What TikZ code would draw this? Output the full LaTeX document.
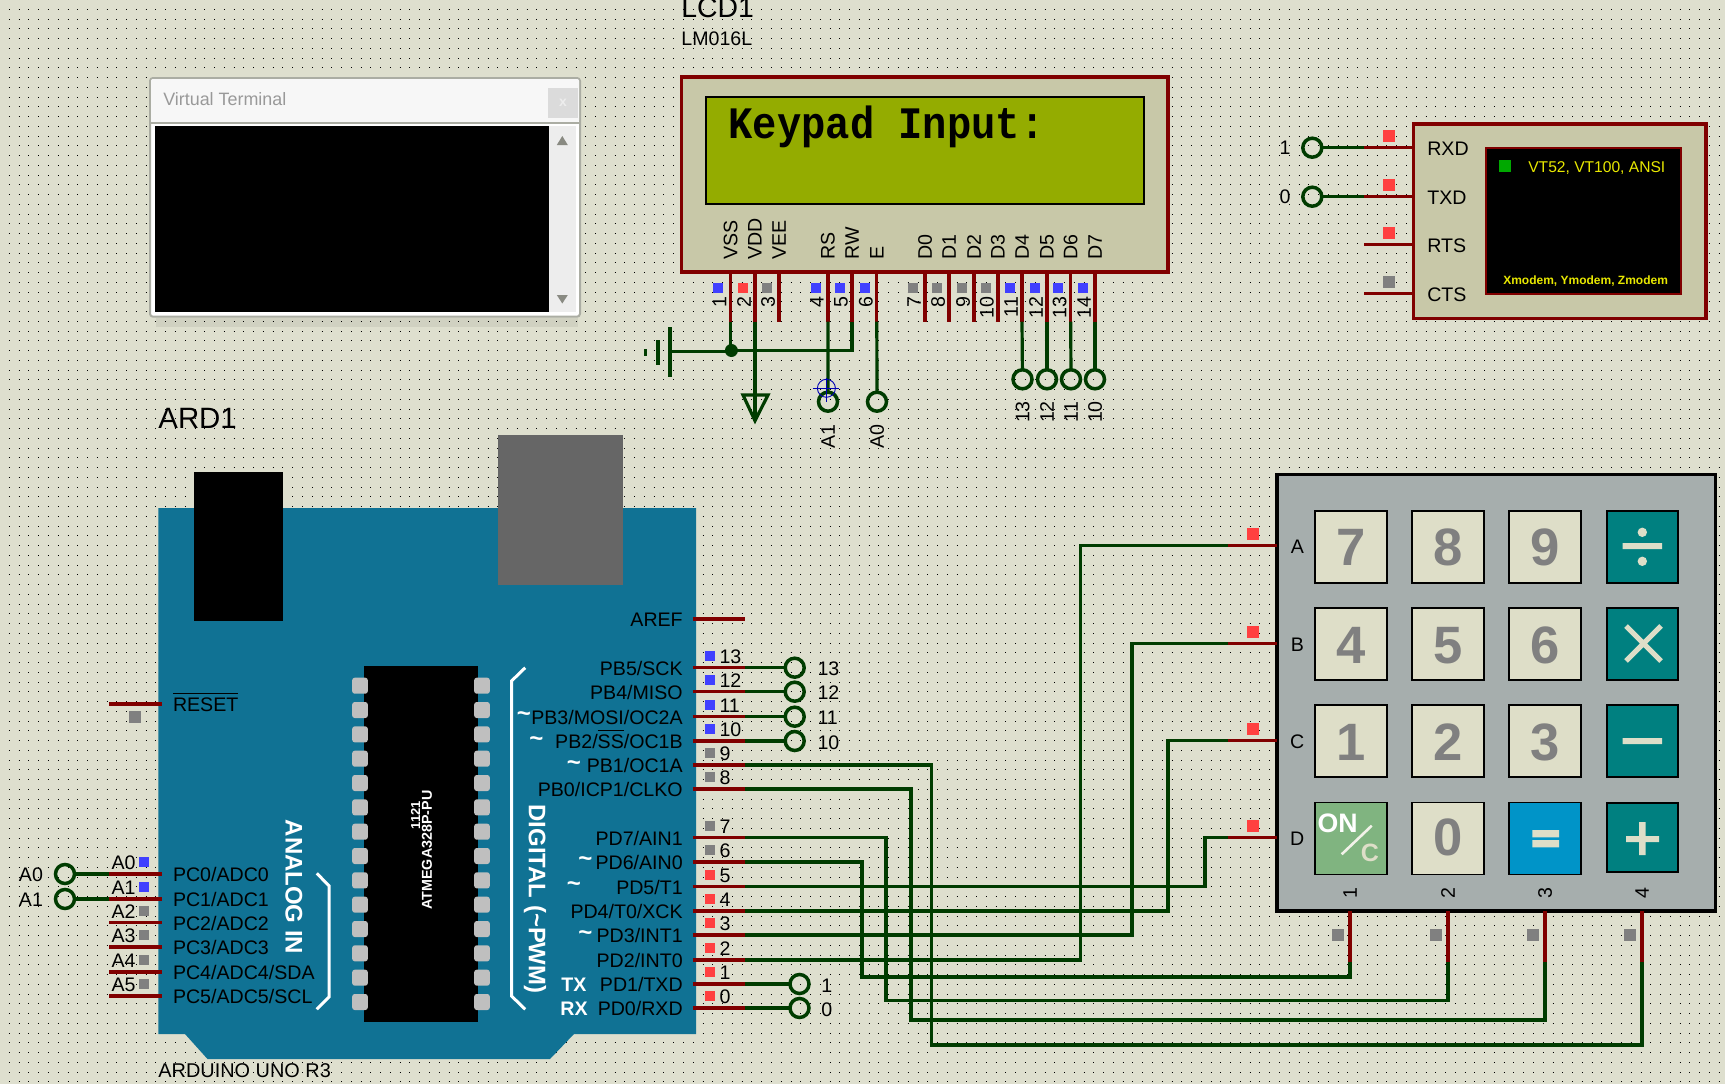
\documentclass[tikz,border=0pt]{standalone}
\usepackage{fontspec}
\setmainfont{Liberation Sans}
\newfontfamily\lcdfont[FakeStretch=0.9]{Liberation Mono}
\usetikzlibrary{calc}
\definecolor{sheet}{HTML}{DEDFCE}
\definecolor{board}{HTML}{107294}
\definecolor{pincol}{HTML}{800000}
\definecolor{wirecol}{HTML}{003C00}
\definecolor{pblue}{HTML}{4040FF}
\definecolor{pred}{HTML}{FF4040}
\definecolor{pgray}{HTML}{808080}
\definecolor{body}{HTML}{C8C8A8}
\definecolor{lcdgreen}{HTML}{94AC00}
\definecolor{keypad}{HTML}{A6AEAD}
\definecolor{keyteal}{HTML}{008080}
\definecolor{keybeige}{HTML}{DEDEC8}
\definecolor{keyblue}{HTML}{0094C8}
\definecolor{keygreen}{HTML}{80B480}
\definecolor{vtgray}{HTML}{ABADA3}
\definecolor{vtyellow}{HTML}{E8E800}
\newcommand{\ovl}[1]{\vbox{\hrule height 1.8pt\kern 3.4pt\hbox{#1}}}
\tikzset{
  every node/.style={inner sep=0pt,outer sep=0pt},
  lbl/.style={font=\fontsize{19.6}{20}\selectfont},
  wlbl/.style={font=\bfseries\fontsize{#1}{#1}\selectfont,text=white},
  pinline/.style={draw=pincol,line width=3.2pt},
  wire/.style={draw=wirecol,line width=3.2pt},
  term/.style={circle,draw=wirecol,line width=3.5pt,minimum size=19pt},
  sq/.style={fill=#1,minimum size=10pt},
  bigsq/.style={fill=#1,minimum size=12pt},
  keyb/.style={draw=black,line width=1.5pt,fill=keybeige,minimum size=72pt},
  keyc/.style={draw=black,line width=1.5pt,fill=keyteal,minimum width=71pt,minimum height=72pt},
  digit/.style={font=\bfseries\fontsize{52.6}{53}\selectfont,text=pgray,anchor=base},
  symb/.style={fill=keybeige},
  pad/.style={fill=black!25,rounded corners=2.5pt,minimum width=15.6pt,minimum height=16pt},
  bracket/.style={draw=white,line width=3pt}
}
\begin{document}
\begin{tikzpicture}[x=1pt,y=-1pt]
\useasboundingbox (0,0) rectangle (1725,1084);
\fill[sheet] (0,0) rectangle (1725,1084);
\foreach \y in {9.4,19.15,...,1084}
  \draw[line width=1pt,dash pattern=on 1pt off 8.77pt] (8.9,\y) -- (1725,\y);

% virtual terminal window
\fill[black,opacity=.06] (156,318) rectangle (578,327);
\draw[vtgray,line width=2pt,fill=white,rounded corners=3pt] (150,78) rectangle (580,316.7);
\fill[black!3!white,rounded corners=2pt] (151,79) rectangle (579,122);
\fill[vtgray] (151,122) rectangle (579,124);
\fill[black!7] (549,125.7) rectangle (576,311.7);
\fill[black] (155,125.7) rectangle (549,311.7);
\node[fill=black!14,minimum width=30pt,minimum height=29.4pt,text=black!7,font=\bfseries\fontsize{14}{14}\selectfont] (vtclose) at (563,103) {x};
\node[font=\fontsize{17.9}{18}\selectfont,text=black!40,anchor=base west] (vttitle) at (163.3,105.7) {Virtual Terminal};
\fill[vtgray!80!black] (556.8,145) -- (562.3,136) -- (567.8,145) -- cycle;
\fill[vtgray!80!black] (556.8,295) -- (562.3,303.5) -- (567.8,295) -- cycle;

% lcd
\node[font=\fontsize{28.4}{29}\selectfont,anchor=base west] (lcdname) at (681.4,17.3) {LCD1};
\node[lbl,anchor=base west] (lcdtype) at (681.4,45.7) {LM016L};
\draw[pincol,line width=3.6pt,fill=body] (681.4,77) rectangle (1168,271.7);
\draw[black,line width=2pt,fill=lcdgreen] (706,97) rectangle (1144,204);
\node[font=\lcdfont\bfseries\fontsize{45}{45}\selectfont,anchor=base west] (lcdtext) at (728.5,138) {Keypad Input:};
\foreach \n/\x/\c/\s in {1/730.7/pblue/VSS,2/755/pred/VDD,3/779/pgray/VEE,4/827.9/pblue/RS,5/852/pblue/RW,6/876.8/pblue/E,
  7/925/pgray/D0,8/949/pgray/D1,9/974/pgray/D2,10/997.9/pgray/D3,11/1022/pblue/D4,12/1047/pblue/D5,13/1070.7/pblue/D6,14/1095/pblue/D7}{
  \coordinate (lcdt\n) at (\x,271.7);
  \coordinate (lcdb\n) at (\x,321.7);
  \draw[pinline] (lcdt\n) -- (lcdb\n);
  \node[sq=\c] (lcds\n) at (\x-12.3,287.7) {};
  \node[lbl,rotate=90,anchor=east] (lcdn\n) at (\x-11,296.7) {\n};
  \node[lbl,rotate=90,anchor=west] (lcdp\n) at (\x,259.3) {\s};
}
\node[circle,fill=wirecol,minimum size=13pt] (junc) at (731.4,350.5) {};
\coordinate (gnd1) at (670,351.5);
\coordinate (gnd2) at (658,352.5);
\coordinate (gnd3) at (645.7,352.5);
\draw[wire] (lcdb1) -- (lcdb1 |- junc);
\draw[wire] (junc.center) -| (lcdb5);
\draw[wire] (gnd1) -- (gnd1 -| junc);
\draw[wire] ($(gnd1)+(0,-24.5)$) -- ($(gnd1)+(0,25.5)$);
\draw[wire] ($(gnd2)+(0,-12.5)$) -- ($(gnd2)+(0,12.5)$);
\draw[wire] ($(gnd3)+(0,-3.5)$) -- ($(gnd3)+(0,3.5)$);
\coordinate (pwrl) at (743,395);
\coordinate (pwrr) at (768,395);
\coordinate (pwr) at (755,420.7);
\draw[wire] (lcdb2) -- (pwr);
\draw[wire] (pwrl) -- (pwrr) -- (pwr) -- cycle;
\node[term] (tlcd4) at (828,401.7) {};
\node[term] (tlcd6) at (877,401.7) {};
\draw[wire] (lcdb4) -- (tlcd4);
\draw[wire] (lcdb6) -- (tlcd6);
\node[lbl,rotate=90] (llcd4) at (828,437) {A1};
\node[lbl,rotate=90] (llcd6) at (877,437) {A0};
\draw[blue!70!black,line width=.9pt] (826.4,388.3) circle [radius=9];
\draw[blue!70!black,line width=.9pt] (812.9,388.3) -- (838.6,388.3) (826.4,378) -- (826.4,401.7);
\foreach \n/\x/\t in {11/1022.5/13,12/1047/12,13/1071/11,14/1095/10}{
  \node[term] (tlcd\n) at (\x,379.3) {};
  \draw[wire] (lcdb\n) -- (tlcd\n);
  \node[lbl,rotate=90] (llcd\n) at (\x,412) {\t};
}

% serial terminal
\draw[pincol,line width=3.6pt,fill=body] (1413.3,124) rectangle (1705.7,318.3);
\draw[pincol,line width=2.2pt,fill=black] (1486,148.3) rectangle (1681,294);
\node[bigsq=green!66!black] (vtled) at (1505,166) {};
\node[font=\fontsize{15.6}{16}\selectfont,text=vtyellow,anchor=base west] (vthead) at (1528.3,172.7) {VT52, VT100, ANSI};
\node[font=\bfseries\fontsize{12}{13}\selectfont,text=vtyellow,anchor=base west] (vtfoot) at (1503.3,284) {Xmodem, Ymodem, Zmodem};
\foreach \s/\y/\c in {RXD/147.7/pred,TXD/196.7/pred,RTS/244.7/pred,CTS/293.7/pgray}{
  \coordinate (vtr\s) at (1413.3,\y);
  \coordinate (vtl\s) at (1364,\y);
  \draw[pinline] (vtr\s) -- (vtl\s);
  \node[bigsq=\c] (vts\s) at (1389,\y-11.7) {};
  \node[lbl,anchor=base west] (vtn\s) at (1427.3,\y+8) {\s};
}
\node[term] (tvt1) at (1312.3,147.7) {};
\node[term] (tvt0) at (1312.3,196.7) {};
\draw[wire] (tvt1) -- (vtlRXD);
\draw[wire] (tvt0) -- (vtlTXD);
\node[lbl,anchor=base] (lvt1) at (1285,154.7) {1};
\node[lbl,anchor=base] (lvt0) at (1285,203.7) {0};

% arduino
\node[font=\fontsize{29.4}{30}\selectfont,anchor=base west] (ardname) at (158.4,428.3) {ARD1};
\fill[board] (158.4,508) -- (696,508) -- (696,1034) -- (574,1034) -- (550,1059) -- (207.5,1059) -- (185,1034) -- (158.4,1034) -- cycle;
\fill[black] (194.3,472) rectangle (283,620.7);
\fill[black!60] (498,435) rectangle (622.5,584.7);
\node[font=\fontsize{19.9}{20}\selectfont,anchor=base west] (ardtype) at (158.4,1077) {ARDUINO UNO R3};
\fill[black] (364,666) rectangle (478,1021.7);
\foreach \i in {0,...,13}{
  \node[pad] (padl\i) at (360,{685.7+\i*24.33}) {};
  \node[pad] (padr\i) at (482,{685.7+\i*24.33}) {};
}
\node[wlbl=14.3,rotate=90] (chiptype) at (427,850) {ATMEGA328P-PU};
\node[wlbl=13,rotate=90] (chipdate) at (415.5,815) {1121};
\node[wlbl=24,rotate=-90] (anlabel) at (294,887) {ANALOG IN};
\node[wlbl=23.9,rotate=-90] (diglabel) at (535,899) {DIGITAL (\char126PWM)};
\draw[bracket] (316.8,873.3) -- (329.2,886) -- (329.2,996.7) -- (316.8,1009.3);
\draw[bracket] (525.2,667.7) -- (511.5,681) -- (511.5,996) -- (525.2,1009.3);

% analog side
\coordinate (rstr) at (161.6,704);
\coordinate (rstl) at (109,704);
\draw[pinline] (rstl) -- (rstr);
\node[bigsq=pgray] (rsts) at (135,716.7) {};
\node[lbl,anchor=base west] (rstn) at (173,711.5) {\ovl{RESET}};
\foreach \n/\y/\c/\t in {0/874/pblue/{PC0/ADC0},1/899/pblue/{PC1/ADC1},2/922.7/pgray/{PC2/ADC2},3/947/pgray/{PC3/ADC3},4/972/pgray/{PC4/ADC4/SDA},5/996/pgray/{PC5/ADC5/SCL}}{
  \coordinate (anr\n) at (161.6,\y);
  \coordinate (anl\n) at (109,\y);
  \draw[pinline] (anl\n) -- (anr\n);
  \node[sq=\c] (ans\n) at (143.7,\y-12) {};
  \node[lbl,anchor=base west] (ann\n) at (111.5,\y-4.5) {A\n};
  \node[lbl,anchor=base west] (ant\n) at (173,\y+7.5) {\t};
}
\foreach \n in {0,1}{
  \node[term] (tan\n) at (65,{874+\n*25}) {};
  \draw[wire] (tan\n) -- (anl\n);
  \node[lbl,anchor=base west] (lan\n) at (19,{881.5+\n*25}) {A\n};
}

% digital side
\coordinate (arefl) at (692.7,619);
\coordinate (arefr) at (745,619);
\draw[pinline] (arefl) -- (arefr);
\node[lbl,anchor=base east] (arefn) at (682.7,626.5) {AREF};
\foreach \n/\y/\c/\t in {13/667.7/pblue/{PB5/SCK},12/691.7/pblue/{PB4/MISO},11/716.7/pblue/{PB3/MOSI/OC2A},10/741/pblue/{PB2/\ovl{SS}/OC1B},
  9/765/pgray/{PB1/OC1A},8/789/pgray/{PB0/ICP1/CLKO},7/837.7/pgray/{PD7/AIN1},6/862/pgray/{PD6/AIN0},5/886.7/pred/{PD5/T1},
  4/911/pred/{PD4/T0/XCK},3/935/pred/{PD3/INT1},2/960/pred/{PD2/INT0},1/984/pred/{PD1/TXD},0/1008/pred/{PD0/RXD}}{
  \coordinate (rl\n) at (692.7,\y);
  \coordinate (rt\n) at (745,\y);
  \draw[pinline] (rl\n) -- (rt\n);
  \node[sq=\c] (rs\n) at (710,\y-11.8) {};
  \node[lbl,anchor=base west] (rn\n) at (719.5,\y-4.2) {\n};
  \node[lbl,anchor=base east] (rp\n) at (682.7,\y+7.5) {\t};
}
\foreach \n/\x/\y in {a/524/717,b/536.5/741.7,c/574/765.7,d/585.5/862,e/574/887,f/585.5/935.7}
  \node[wlbl=24] (tilde\n) at (\x,\y) {\char126};
\node[wlbl=19.6,anchor=base] (txlabel) at (574,991.7) {TX};
\node[wlbl=19.6,anchor=base] (rxlabel) at (574,1015) {RX};
\foreach \n in {13,12,11,10}{
  \node[term] (tr\n) at (794.7,0 |- rt\n) {};
  \draw[wire] (rt\n) -- (tr\n);
}
\foreach \n/\y in {13/675.7,12/699.7,11/724.7,10/749}
  \node[lbl,anchor=base west] (lr\n) at (817.5,\y) {\n};
\foreach \n/\y in {1/992,0/1016}{
  \node[term] (tr\n) at (799.5,{\y-8}) {};
  \draw[wire] (rt\n) -- (tr\n);
  \node[lbl,anchor=base] (lr\n) at (826.7,\y) {\n};
}

% keypad
\draw[black,line width=3.6pt,fill=keypad] (1277,474.5) rectangle (1715.5,911);
\foreach \k/\x/\y/\b in {7/1351/547/565,8/1448/547/565,9/1545/547/565,4/1351/644/663.3,5/1448/644/663.3,6/1545/644/663.3,1/1351/741/760,2/1448/741/760,3/1545/741/760,0/1448/838.5/855}{
  \node[keyb] (key\k) at (\x,\y) {};
  \node[digit] (dig\k) at (\x,\b) {\k};
}
\node[keyb,fill=keygreen] (keyon) at (1351,838.5) {};
\node[keyb,fill=keyblue] (keyeq) at (1545,838.5) {};
\node[keyc] (keydiv) at (1642.5,547) {};
\node[keyc] (keymul) at (1642.5,644) {};
\node[keyc] (keymin) at (1642.5,741) {};
\node[keyc,minimum height=69pt] (keyadd) at (1642.5,837.5) {};
\node[font=\bfseries\fontsize{26.7}{27}\selectfont,text=white,anchor=base west] (onlabel) at (1317.5,832) {ON};
\node[font=\bfseries\fontsize{25}{25}\selectfont,text=keybeige] (clabel) at (1370,853.3) {C};
\draw[keybeige!40!white,line width=2.6pt] (1341.7,854.3) -- (1371.7,825.7);
\fill[symb] (1532.3,830) rectangle (1559,837.3) (1532.3,840) rectangle (1559,847.3);
\fill[symb] (1626,836) rectangle (1659,842) (1639,822) rectangle (1645.7,855);
\fill[symb] (1622.7,543) rectangle (1662,549) (1622.7,738) rectangle (1662,744);
\fill[symb] (1642.3,532.3) circle [radius=4.7] (1642.3,561.3) circle [radius=4.7];
\draw[keybeige,line width=5pt] (1626,626) -- (1661,661) (1661,626) -- (1626,661);
\foreach \r/\y/\q in {A/545.8/533.8,B/643.6/631.6,C/740.7/728.7,D/837.8/825.8}{
  \coordinate (kr\r) at (1277,\y);
  \coordinate (kl\r) at (1227.7,\y);
  \draw[pinline] (kl\r) -- (kr\r);
  \node[bigsq=pred] (ks\r) at (1253,\q) {};
  \node[lbl] (kn\r) at (1297.3,\y+1) {\r};
}
\foreach \c/\x/\q in {1/1350/1338,2/1448/1435.7,3/1545/1533,4/1642/1630}{
  \coordinate (kt\c) at (\x,911);
  \coordinate (kb\c) at (\x,961.7);
  \draw[pinline] (kt\c) -- (kb\c);
  \node[bigsq=pgray] (kq\c) at (\q,935) {};
  \node[lbl,rotate=90] (kc\c) at (\x,893) {\c};
}
% keypad wiring
\foreach \p/\c/\x/\y in {6/1/862/977,7/2/886/1000.7,8/3/911/1020,9/4/931.7/1045}{
  \coordinate (bn\c) at (\x,\y);
  \draw[wire] (rt\p) -| (bn\c) -| (kb\c);
}
\foreach \p/\r/\x/\y in {5/D/1205/837.8,4/C/1168/740.7,3/B/1132/643.6,2/A/1080.7/545.8}{
  \coordinate (bn\r) at (\x,\y);
  \draw[wire] (rt\p) -| (bn\r) -- (kl\r);
}
\end{tikzpicture}
\end{document}
